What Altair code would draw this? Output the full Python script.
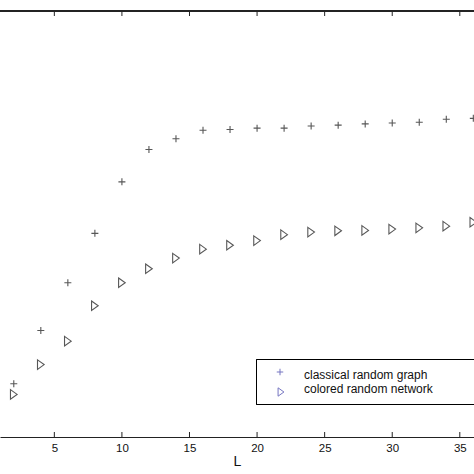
import altair as alt
import pandas as pd

# Data (y in arbitrary units, frame spans 0..100)
L_values = [2, 4, 6, 8, 10, 12, 14, 16, 18, 20, 22, 24, 26, 28, 30, 32, 34, 36]
classical = [12.5, 25.0, 36.2, 47.8, 59.9, 67.5, 70.0, 72.0, 72.2, 72.5, 72.5,
             73.0, 73.2, 73.5, 73.7, 73.9, 74.6, 74.8]
colored = [10.0, 17.0, 22.5, 30.8, 36.2, 39.5, 42.0, 44.1, 45.0, 46.1, 47.5,
           48.1, 48.4, 48.5, 48.8, 49.1, 49.5, 50.4]
series_names = ["classical random graph", "colored random network"]
x_ticks = [5, 10, 15, 20, 25, 30, 35]

W, H = 474, 426
FONT = "Liberation Sans"
PLUS = "M-1,0L1,0M0,-1L0,1"
TRI = "M-0.7,-1L0.7,0L-0.7,1Z"
LEG_COLOR = "#3c3ca8"

df_c = pd.DataFrame({"L": L_values, "v": classical})
df_t = pd.DataFrame({"L": L_values, "v": colored})
df_ticks = pd.DataFrame({"t": x_ticks})

xs = alt.Scale(domain=[0.98, 36.05], nice=False, zero=False)
ys = alt.Scale(domain=[0, 100], nice=False, zero=False)

x_enc = alt.X("L:Q", scale=xs, title="L",
              axis=alt.Axis(values=x_ticks, ticks=False, grid=False, domain=True,
                            domainColor="#222222", domainWidth=1,
                            labelFont=FONT, labelFontSize=11.5, labelColor="#111111",
                            labelPadding=5, titleFont=FONT, titleFontSize=14,
                            titleFontWeight="normal", titleColor="#111111",
                            titlePadding=1))
y_enc = alt.Y("v:Q", scale=ys, axis=None)

plus_pts = alt.Chart(df_c).mark_point(shape=PLUS, size=49, filled=False,
                                      stroke="#111111", strokeWidth=1.1).encode(x=x_enc, y=y_enc)
tri_pts = alt.Chart(df_t).mark_point(shape=TRI, size=90, filled=False,
                                     stroke="#111111", strokeWidth=1.1).encode(
    x=alt.X("L:Q", scale=xs), y=y_enc)

ticks_bottom = alt.Chart(df_ticks).mark_rule(color="#222222", strokeWidth=1).encode(
    x=alt.X("t:Q", scale=xs), y=alt.value(H), y2=alt.value(H - 5))
ticks_top = alt.Chart(df_ticks).mark_rule(color="#222222", strokeWidth=1).encode(
    x=alt.X("t:Q", scale=xs), y=alt.value(0), y2=alt.value(5))
top_line = alt.Chart(df_ticks).mark_rule(color="#222222", strokeWidth=1).encode(
    x=alt.value(0), x2=alt.value(W), y=alt.value(0))

# Legend box (extends past the right edge as in the reference)
leg_box = alt.Chart(df_ticks).mark_rect(fill="white", stroke="black", strokeWidth=1).encode(
    x=alt.value(256.5), x2=alt.value(W + 10), y=alt.value(348.5), y2=alt.value(393.5))
leg_df1 = pd.DataFrame({"name": [series_names[0]]})
leg_df2 = pd.DataFrame({"name": [series_names[1]]})
leg_sym1 = alt.Chart(leg_df1).mark_point(shape=PLUS, size=42, filled=False,
                                         stroke=LEG_COLOR, strokeWidth=1).encode(
    x=alt.value(280), y=alt.value(361))
leg_sym2 = alt.Chart(leg_df2).mark_point(shape=TRI, size=70, filled=False,
                                         stroke=LEG_COLOR, strokeWidth=1).encode(
    x=alt.value(281), y=alt.value(381))
leg_txt1 = alt.Chart(leg_df1).mark_text(align="left", baseline="middle", font=FONT,
                                        fontSize=12, color="#111111").encode(
    x=alt.value(304), y=alt.value(364), text="name:N")
leg_txt2 = alt.Chart(leg_df2).mark_text(align="left", baseline="middle", font=FONT,
                                        fontSize=12, color="#111111").encode(
    x=alt.value(304), y=alt.value(378), text="name:N")

chart = alt.layer(
    plus_pts, tri_pts, ticks_bottom, ticks_top, top_line,
    leg_box, leg_sym1, leg_sym2, leg_txt1, leg_txt2
).properties(
    width=W, height=H,
    autosize=alt.AutoSizeParams(type="none"),
    padding={"top": 11, "bottom": 37, "left": 0, "right": 0},
    background="white",
).configure_view(stroke=None)

chart.save("out.html", embed_options={"renderer": "svg", "actions": False})
